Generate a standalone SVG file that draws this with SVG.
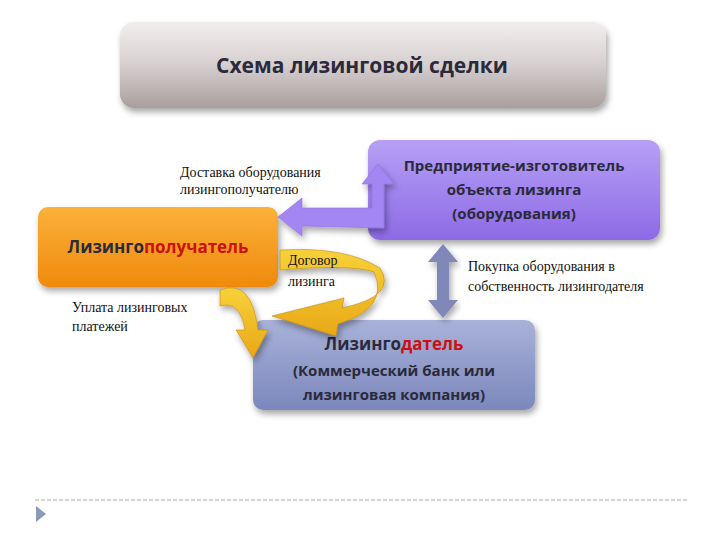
<svg xmlns="http://www.w3.org/2000/svg" width="720" height="540" viewBox="0 0 720 540">
<defs>
<linearGradient id="gTitle" x1="0" y1="0" x2="0" y2="1"><stop offset="0" stop-color="#f2eeee"/><stop offset="0.5" stop-color="#d6cfcf"/><stop offset="1" stop-color="#a99e9e"/></linearGradient>
<linearGradient id="gPur" x1="0" y1="0" x2="0" y2="1"><stop offset="0" stop-color="#b6a0f5"/><stop offset="1" stop-color="#8d6ae6"/></linearGradient>
<linearGradient id="gOr" x1="0" y1="0" x2="0" y2="1"><stop offset="0" stop-color="#fbb23a"/><stop offset="1" stop-color="#ef8a0c"/></linearGradient>
<linearGradient id="gBl" x1="0" y1="0" x2="0" y2="1"><stop offset="0" stop-color="#a9b2d8"/><stop offset="1" stop-color="#7c87bd"/></linearGradient>
<linearGradient id="gYel" x1="0" y1="0" x2="0" y2="1"><stop offset="0" stop-color="#f7d13a"/><stop offset="1" stop-color="#e9a817"/></linearGradient>
<filter id="sh" x="-10%" y="-10%" width="120%" height="130%"><feDropShadow dx="2" dy="4" stdDeviation="3" flood-color="#000" flood-opacity="0.35"/></filter>
</defs>
<style>
.h{font-family:"Open Sans","DejaVu Sans",sans-serif;font-weight:bold;fill:#2a2a3a}
.r{fill:#cc1010}
.s{font-family:"Liberation Serif","DejaVu Serif",serif;font-size:14px;fill:#111}
</style>
<rect width="720" height="540" fill="#fff"/>
<g id="title"><rect x="120" y="22" width="486" height="86" rx="14" fill="url(#gTitle)" filter="url(#sh)"/>
<text class="h" x="362" y="73" font-size="21" text-anchor="middle">Схема лизинговой сделки</text></g>
<g id="manufacturer"><rect x="368" y="140" width="292" height="100" rx="12" fill="url(#gPur)" filter="url(#sh)"/>
<text class="h" font-size="15" text-anchor="middle"><tspan x="514" y="171">Предприятие-изготовитель</tspan><tspan x="514" y="195">объекта лизинга</tspan><tspan x="514" y="219">(оборудования)</tspan></text></g>
<g id="lessee"><rect x="38" y="207" width="240" height="80" rx="10" fill="url(#gOr)" filter="url(#sh)"/>
<text class="h" x="158" y="253" font-size="17" text-anchor="middle">Лизинго<tspan class="r">получатель</tspan></text></g>
<g id="lessor"><rect x="253" y="320" width="282" height="90" rx="10" fill="url(#gBl)" filter="url(#sh)"/>
<text class="h" font-size="15" text-anchor="middle"><tspan x="394" y="350" font-size="17">Лизинго<tspan class="r">датель</tspan></tspan><tspan x="394" y="376">(Коммерческий банк или</tspan><tspan x="394" y="400">лизинговая компания)</tspan></text></g>
<g id="connectors">
<path d="M384,228 L384,184 L394,184 L378,164 L362,184 L372,184 L372,208 L302,208 L302,198 L278,217 L302,236 L302,226 Z" fill="#a486f2" stroke="#8e6fe0" stroke-width="0.6" filter="url(#sh)"/>
<path d="M443,244 L458,262 L449,262 L449,300 L458,300 L443,318 L428,300 L437,300 L437,262 L428,262 Z" fill="#7f88b8" filter="url(#sh)"/>
<path d="M280,250 Q345,246 380,268 Q398,296 342,308 L344,298 L272,316 L336,336 L338,324 Q390,308 374,272 Q350,264 280,270 Z" fill="url(#gYel)" stroke="#b88a10" stroke-width="0.6" filter="url(#sh)"/>
<path d="M220,290 Q252,278 258,330 L268,330 L253,358 L236,330 L245,330 Q240,300 220,306 Z" fill="url(#gYel)" stroke="#c88c10" stroke-width="0.6" filter="url(#sh)"/>
</g>
<g id="labels">
<text class="s"><tspan x="180" y="177">Доставка оборудования</tspan><tspan x="180" y="194">лизингополучателю</tspan></text>
<text class="s"><tspan x="288" y="265">Договор</tspan><tspan x="288" y="286">лизинга</tspan></text>
<text class="s"><tspan x="468" y="271">Покупка оборудования в</tspan><tspan x="468" y="291">собственность лизингодателя</tspan></text>
<text class="s"><tspan x="72" y="312">Уплата лизинговых</tspan><tspan x="72" y="331">платежей</tspan></text>
</g>
<line x1="35" y1="500" x2="688" y2="500" stroke="#aaa" stroke-dasharray="4 2"/>
<path d="M36,506 L46,514 L36,522 Z" fill="#8a9ab8"/>
</svg>
